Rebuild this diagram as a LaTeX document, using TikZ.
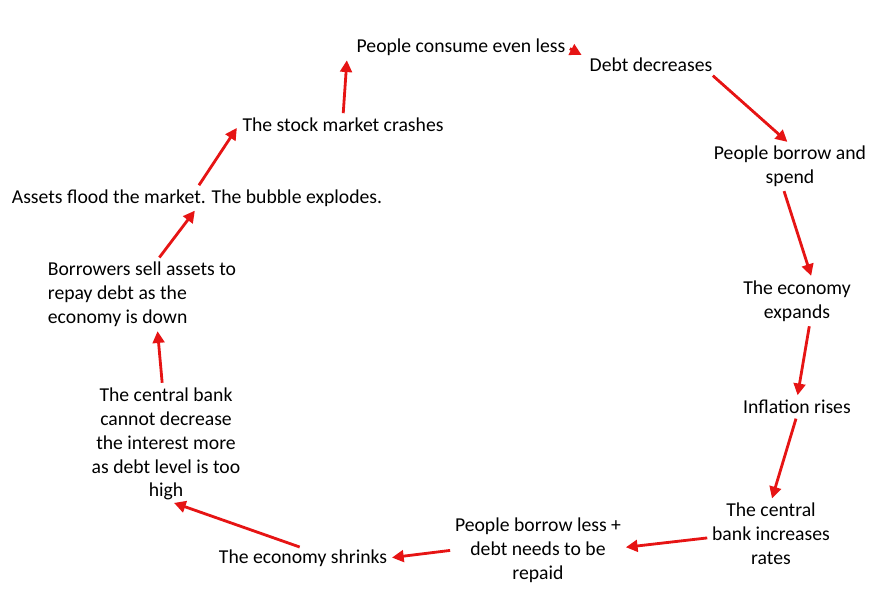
\documentclass[tikz,border=0pt]{standalone}
\usepackage{fontspec}
\setmainfont{Carlito}
\usetikzlibrary{arrows.meta,positioning}
\definecolor{arrowred}{RGB}{230,20,20}
\begin{document}
\begin{tikzpicture}[x=0.03cm,y=-0.03cm,
  every node/.style={font=\fontsize{16.8}{20.4}\selectfont,inner sep=1pt},
  step box/.style={align=center},
  flow/.style={draw=arrowred,line width=2.4pt,-{Triangle[length=10pt,width=10pt]},shorten <=3pt,shorten >=3pt}]
\useasboundingbox (0,0) rectangle (888,590);
\node (consume) at (461,47) {People consume even less};
\node (debtdec) at (651,65) {Debt decreases};
\node[step box] (borrow) at (790,166) {People borrow and\\spend};
\node[step box] (expands) at (797,301) {The economy\\expands};
\node (inflation) at (797,407) {Inflation rises};
\node[step box] (bankup) at (771,534) {The central\\bank increases\\rates};
\node[step box] (borrowless) at (538,550) {People borrow less +\\debt needs to be\\repaid};
\node (shrinks) at (303,558) {The economy shrinks};
\node[step box] (cannot) at (166,444) {The central bank\\cannot decrease\\the interest more\\as debt level is too\\high};
\node[align=left] (sell) at (142,294) {Borrowers sell assets to\\repay debt as the\\economy is down};
\node (flood) at (197,198) {Assets flood the market. The bubble explodes.};
\node (crash) at (343,125) {The stock market crashes};
% cycle
\draw[flow] (consume.east) -- ([xshift=-3pt]debtdec.north west);
\draw[flow] ([xshift=-3pt]debtdec.south east) -- (borrow.north);
\draw[flow] ([xshift=-6pt]borrow.south) -- ([xshift=13pt]expands.north);
\draw[flow] ([xshift=11pt]expands.south) -- (inflation.north);
\draw[flow] (inflation.south) -- (bankup.north);
\draw[flow] ([yshift=-3pt]bankup.west) -- ([yshift=2pt]borrowless.east);
\draw[flow] (borrowless.west) -- (shrinks.east);
\draw[flow] (shrinks.north) -- ([xshift=4pt]cannot.south);
\draw[flow] ([xshift=-3pt]cannot.north) -- ([xshift=13pt]sell.south);
\draw[flow] ([xshift=13pt]sell.north) -- (flood.south);
\draw[flow] (flood.north) -- ([xshift=-2pt]crash.west);
\draw[flow] (crash.north) -- ([xshift=-7pt]consume.south west);
\end{tikzpicture}
\end{document}
